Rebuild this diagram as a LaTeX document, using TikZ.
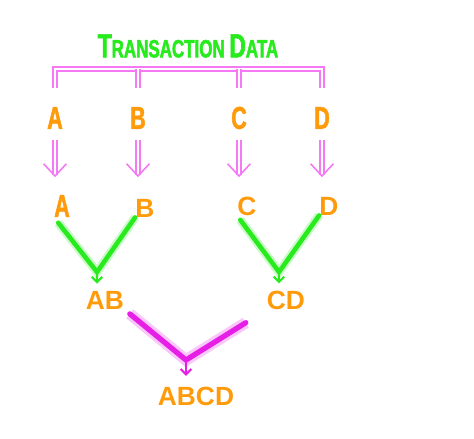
\documentclass[tikz,border=0pt]{standalone}
\usepackage{fontspec}
\setmainfont{Liberation Sans}
\newfontfamily\narrowfont[FakeStretch=0.68,FakeBold=1.5]{Liberation Sans}
\newfontfamily\titlefont[FakeStretch=0.68,FakeBold=2]{Liberation Sans}
\usetikzlibrary{arrows.meta}
\definecolor{neongreen}{RGB}{40,235,30}
\definecolor{letterorange}{RGB}{255,155,10}
\definecolor{bracketpink}{RGB}{245,120,245}
\definecolor{joinmagenta}{RGB}{230,30,230}

\begin{document}
\begin{tikzpicture}[x=0.02cm,y=-0.02cm,
  heading/.style={text=neongreen,font=\titlefont\bfseries\fontsize{14.2}{14.2}\selectfont,inner sep=0pt},
  letter/.style={text=letterorange,font=\narrowfont\bfseries\fontsize{18}{18}\selectfont,inner sep=0pt},
  item/.style={text=letterorange,font=\bfseries\fontsize{15}{15}\selectfont,inner sep=0pt},
  pair/.style={text=letterorange,font=\bfseries\fontsize{15}{15}\selectfont,inner sep=0pt},
  brk/.style={draw=bracketpink,line width=0.9pt,double=white,double distance=1.6pt},
  down/.style={brk,-{Straight Barb[length=7pt,width=13pt]}},
  merge/.style={draw=neongreen,line width=2.6pt,line cap=round,preaction={draw=neongreen,line width=5pt,opacity=0.25}},
  mergetip/.style={draw=neongreen,line width=1.2pt,-{Straight Barb[length=3pt,width=6pt]}},
  final/.style={draw=joinmagenta,line width=3pt,line cap=round,preaction={draw=joinmagenta,line width=6.5pt,opacity=0.25}},
  finaltip/.style={draw=joinmagenta,line width=1.2pt,-{Straight Barb[length=3pt,width=6pt]}}]
  \useasboundingbox (0,0) rectangle (474,439);
  \node (title) [heading] at (188,46) {{\fontsize{19}{19}\selectfont T}RANSACTION {\fontsize{19}{19}\selectfont D}ATA};
  \node (a1) [letter] at (55,118) {A};
  \node (b1) [letter] at (138,118) {B};
  \node (c1) [letter] at (239,118) {C};
  \node (d1) [letter] at (322,118) {D};
  \node (a2) [letter] at (62,206) {A};
  \node (b2) [item] at (145,208) {B};
  \node (c2) [item] at (247,206) {C};
  \node (d2) [item] at (329,206) {D};
  \node (ab) [pair] at (105,300) {AB};
  \node (cd) [pair] at (286,300) {CD};
  \node (abcd) [pair] at (196,396) {ABCD};
  \coordinate (bar) at (0,69);
  \coordinate (feet) at (0,88);
  \coordinate (abjoin) at (97,272);
  \coordinate (cdjoin) at (279,272);
  \coordinate (abcdjoin) at (186,360);
  \draw[brk] (a1 |- feet) |- (d1 |- bar) -- (d1 |- feet);
  \draw[brk] (b1 |- bar) -- (b1 |- feet);
  \draw[brk] (c1 |- bar) -- (c1 |- feet);
  \draw[down,shorten <=6pt,shorten >=10pt] (a1.south) -- (a1 |- a2.north);
  \draw[down,shorten <=6pt,shorten >=10pt] (b1.south) -- (b1 |- a2.north);
  \draw[down,shorten <=6pt,shorten >=10pt] (c1.south) -- (c1 |- a2.north);
  \draw[down,shorten <=6pt,shorten >=10pt] (d1.south) -- (d1 |- a2.north);
  \draw[merge,shorten <=4pt] (a2.south west) -- (abjoin) -- (b2.south west);
  \draw[merge,shorten <=3pt] (c2.south west) -- (cdjoin) -- (d2.south west);
  \draw[mergetip,shorten >=4pt] (abjoin) -- (abjoin |- ab.north);
  \draw[mergetip,shorten >=4pt] (cdjoin) -- (cdjoin |- cd.north);
  \draw[final,shorten <=4pt,shorten >=14pt] (ab.south east) -- (abcdjoin) -- (cd.south west);
  \draw[finaltip,shorten >=6pt] (abcdjoin) -- (abcdjoin |- abcd.north);
\end{tikzpicture}
\end{document}
